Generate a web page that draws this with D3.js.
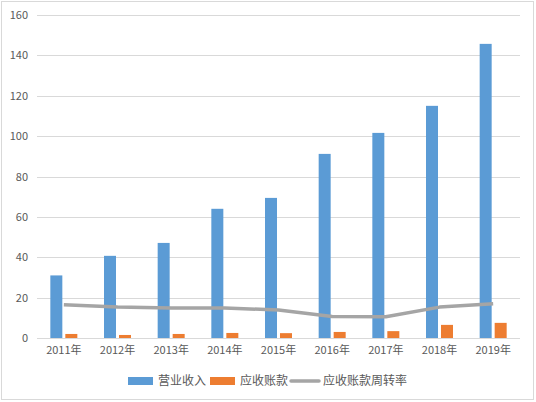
<!DOCTYPE html>
<html><head><meta charset="utf-8">
<script src="https://cdn.jsdelivr.net/npm/d3@7"></script>
<style>body{margin:0;background:#fff;}svg{display:block;}</style>
</head><body>
<script>
const categories = ["2011年","2012年","2013年","2014年","2015年","2016年","2017年","2018年","2019年"];
const revenue = [31, 40.7, 47.1, 64, 69.4, 91.2, 101.6, 115, 145.7];
const receivables = [2.0, 1.5, 2.0, 2.5, 2.4, 3.0, 3.4, 6.5, 7.5];
const turnover = [16.5, 15.3, 14.8, 14.8, 13.9, 10.7, 10.5, 15.3, 17.0];
const yTicks = [0,20,40,60,80,100,120,140,160];
const seriesNames = ["营业收入","应收账款","应收账款周转率"];
const colors = ["#5b9bd5","#ed7d31","#a5a5a5"];

(function(){
const W=536,H=402;
const svg=d3.select("body").append("svg").attr("width",W).attr("height",H);
svg.append("rect").attr("x",1.5).attr("y",1.5).attr("width",W-4).attr("height",H-4)
  .attr("fill","#fff").attr("stroke","#d9d9d9");

const pl=37,pr=520,pt=15,pb=338;
const x=d3.scaleBand().domain(categories).range([pl,pr]);
const y=d3.scaleLinear().domain([0,160]).range([pb,pt]);
const font='"Noto Sans CJK SC","Microsoft YaHei",sans-serif';

svg.append("g").selectAll("line").data(yTicks).join("line")
  .attr("x1",pl).attr("x2",pr)
  .attr("y1",d=>Math.round(y(d))+0.5).attr("y2",d=>Math.round(y(d))+0.5)
  .attr("stroke","#d9d9d9").attr("stroke-width",1);

const yAxis=d3.axisLeft(y).tickValues(yTicks).tickSize(0).tickPadding(9);
const gy=svg.append("g").attr("transform",`translate(${pl},0)`).call(yAxis);
gy.select(".domain").remove();
gy.selectAll("text").attr("fill","#595959").style("font-family",font).style("font-size","11px");

const xAxis=d3.axisBottom(x).tickSize(0).tickPadding(8);
const gx=svg.append("g").attr("transform",`translate(0,${pb})`).call(xAxis);
gx.select(".domain").remove();
gx.selectAll("text").attr("fill","#595959").style("font-family",font).style("font-size","11px");

const bw=12, gap=3;
svg.append("g").selectAll("rect").data(revenue).join("rect")
  .attr("x",(d,i)=>x(categories[i])+x.bandwidth()/2-bw-gap/2)
  .attr("width",bw).attr("y",d=>y(d)).attr("height",d=>y(0)-y(d)).attr("fill",colors[0]);
svg.append("g").selectAll("rect").data(receivables).join("rect")
  .attr("x",(d,i)=>x(categories[i])+x.bandwidth()/2+gap/2)
  .attr("width",bw).attr("y",d=>y(d)).attr("height",d=>y(0)-y(d)).attr("fill",colors[1]);

const line=d3.line().x((d,i)=>x(categories[i])+x.bandwidth()/2).y(d=>y(d));
svg.append("path").datum(turnover).attr("d",line).attr("fill","none")
  .attr("stroke",colors[2]).attr("stroke-width",3.5).attr("stroke-linejoin","round");

const lg=svg.append("g").style("font-family",font).style("font-size","12px");
const items=[{x:128,type:"rect"},{x:210,type:"rect"},{x:291,type:"line"}];
items.forEach((it,i)=>{
  if(it.type==="rect"){
    lg.append("rect").attr("x",it.x).attr("y",377).attr("width",25).attr("height",8).attr("fill",colors[i]);
  } else {
    lg.append("line").attr("x1",it.x).attr("x2",it.x+28).attr("y1",381).attr("y2",381)
      .attr("stroke",colors[i]).attr("stroke-width",3.5).attr("stroke-linecap","round");
  }
  lg.append("text").attr("x",it.x+(it.type==="rect"?30:32)).attr("y",381).attr("dy","0.35em")
    .attr("fill","#595959").text(seriesNames[i]);
});
})();
</script>
</body></html>
